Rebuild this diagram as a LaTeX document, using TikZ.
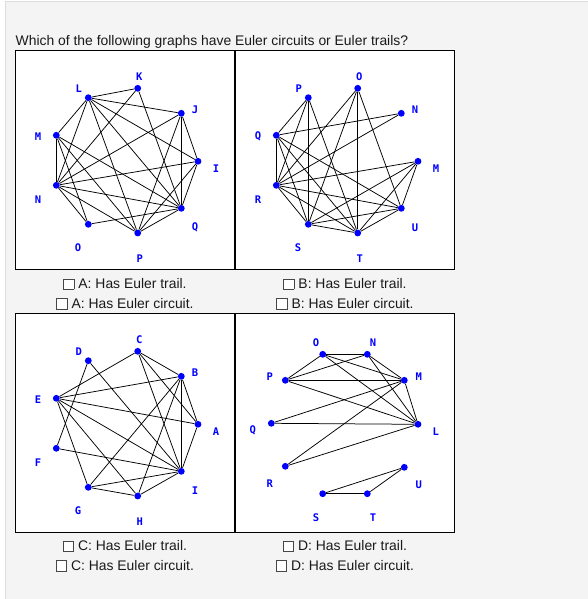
\documentclass[tikz,border=0pt]{standalone}
\usepackage{fontspec}
\setmainfont{Liberation Sans}
\newfontfamily\labfont{DejaVu Sans Mono}
\usetikzlibrary{calc}
\definecolor{nodeblue}{RGB}{0,0,255}
\definecolor{bggray}{RGB}{244,244,244}
\definecolor{bgline}{RGB}{222,222,222}
\definecolor{txt}{RGB}{25,25,25}
\definecolor{cbline}{RGB}{70,70,70}
\newcommand\chkbox{\raisebox{-0.5pt}{\setlength\fboxsep{0pt}\setlength\fboxrule{0.8pt}\fcolorbox{cbline}{white}{\rule{0pt}{9.5pt}\rule{9.5pt}{0pt}}}}
\def\nx{{122.7,73.3,166.3,41.3,183,41.3,166.3,73.3,122.7}}
\def\ny{{38.3,47.7,63.3,85.3,111.3,135.3,158.3,174.3,183}}
\def\lx{{124.3,63.8,180,23,201,23,180,63,124.7}}
\def\ly{{26.5,38.3,59.3,86.7,118.5,149.7,177.3,197.2,208.5}}
\newcommand\placenine[2]{%
  \foreach \nm [count=\i from 0] in {#2} {
    \pgfmathsetmacro\px{\nx[\i]}
    \pgfmathsetmacro\py{\ny[\i]}
    \pgfmathsetmacro\qx{\lx[\i]}
    \pgfmathsetmacro\qy{\ly[\i]}
    \node[dot] (#1\nm) at (\px,\py) {};
    \node[glab] (#1\nm-l) at (\qx,\qy) {\nm};
  }}
\begin{document}
\begin{tikzpicture}[x=1pt,y=-1pt,
  dot/.style={circle, fill=nodeblue, inner sep=0pt, minimum size=6.8pt},
  glab/.style={text=nodeblue, font=\labfont\bfseries\fontsize{10.5}{12}\selectfont, inner sep=0pt},
  edge/.style={line width=0.75pt, black},
  panel/.style={draw=black, line width=1pt, fill=white},
  answer/.style={font=\fontsize{13.9}{16}\selectfont, text=txt, inner sep=0pt, anchor=base}]
\useasboundingbox (0,0) rectangle (587,599);
\fill[white] (0,0) rectangle (587,599);
\filldraw[fill=bggray, draw=bgline, line width=1pt] (5.5,1.5) rectangle (592,604);
\node[answer, anchor=base west] (title) at (15.5,46) {Which of the following graphs have Euler circuits or Euler trails?};
% panels
\draw[panel] (15.5,50.5) rectangle (234.5,269.5);
\draw[panel] (235.5,50.5) rectangle (454.5,269.5);
\draw[panel] (15.5,313.5) rectangle (234.5,532.5);
\draw[panel] (235.5,313.5) rectangle (454.5,532.5);
% graph A
\begin{scope}[shift={(15,50)}]
\placenine{a}{K,L,J,M,I,N,Q,O,P}
\end{scope}
\foreach \u/\v in {K/L,K/N,K/Q,L/J,L/I,L/Q,L/P,L/M,L/N,J/N,J/Q,J/I,J/P,M/N,M/O,M/Q,M/P,I/N,I/Q,I/P,N/Q,N/P,N/O,Q/O,Q/P}
  \draw[edge] (a\u) -- (a\v);
% graph B
\begin{scope}[shift={(235,50)}]
\placenine{b}{O,P,N,Q,M,R,U,S,T}
\end{scope}
\foreach \u/\v in {O/T,O/U,O/R,O/S,P/Q,P/R,P/S,P/T,N/Q,N/R,Q/R,Q/S,Q/T,Q/U,M/R,M/S,M/T,M/U,R/S,R/T,R/U,S/T,S/U,T/U}
  \draw[edge] (b\u) -- (b\v);
% graph C
\begin{scope}[shift={(15,313)}]
\placenine{c}{C,D,B,E,A,F,I,G,H}
\end{scope}
\foreach \u/\v in {C/E,C/B,C/A,C/I,D/F,D/I,B/E,B/A,B/I,B/G,B/H,A/E,A/I,E/I,E/G,E/H,F/I,I/G,I/H,G/H}
  \draw[edge] (c\u) -- (c\v);
% graph D
\begin{scope}[shift={(235,313)}]
\node[dot] (dO) at (87.7,41.3) {};  \node[glab] (dO-l) at (81,30) {O};
\node[dot] (dN) at (132.3,41.3) {}; \node[glab] (dN-l) at (138,30) {N};
\node[dot] (dP) at (50.3,67.3) {};  \node[glab] (dP-l) at (34.7,64) {P};
\node[dot] (dM) at (169.3,67.3) {}; \node[glab] (dM-l) at (183.7,64) {M};
\node[dot] (dQ) at (36.3,110.3) {}; \node[glab] (dQ-l) at (17.7,117.3) {Q};
\node[dot] (dL) at (183,111.3) {};  \node[glab] (dL-l) at (200.7,118.3) {L};
\node[dot] (dR) at (50.3,153.3) {}; \node[glab] (dR-l) at (34.7,171) {R};
\node[dot] (dU) at (169.3,154.3) {};\node[glab] (dU-l) at (183.7,172) {U};
\node[dot] (dS) at (87.7,180.7) {}; \node[glab] (dS-l) at (81,204.7) {S};
\node[dot] (dT) at (132.3,180.7) {};\node[glab] (dT-l) at (138,204.7) {T};
\end{scope}
\foreach \u/\v in {O/N,O/P,O/M,O/L,N/P,N/M,N/L,P/M,P/L,Q/M,Q/L,R/M,R/L,M/L,S/T,S/U,T/U}
  \draw[edge] (d\u) -- (d\v);
% answers
\node[answer] (ta1) at (125,288.5) {\chkbox\hspace{4pt}A: Has Euler trail.};
\node[answer] (ta2) at (125,308) {\chkbox\hspace{4pt}A: Has Euler circuit.};
\node[answer] (tb1) at (345,288.5) {\chkbox\hspace{4pt}B: Has Euler trail.};
\node[answer] (tb2) at (345,308) {\chkbox\hspace{4pt}B: Has Euler circuit.};
\node[answer] (tc1) at (125,550.5) {\chkbox\hspace{4pt}C: Has Euler trail.};
\node[answer] (tc2) at (125,570) {\chkbox\hspace{4pt}C: Has Euler circuit.};
\node[answer] (td1) at (345,550.5) {\chkbox\hspace{4pt}D: Has Euler trail.};
\node[answer] (td2) at (345,570) {\chkbox\hspace{4pt}D: Has Euler circuit.};
\end{tikzpicture}
\end{document}
